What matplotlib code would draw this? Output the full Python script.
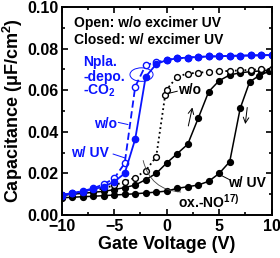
import matplotlib
matplotlib.use("Agg")
import matplotlib.pyplot as plt
from matplotlib.patches import Ellipse
from matplotlib.ticker import MultipleLocator, FormatStrFormatter

plt.rcParams['font.family'] = ['Liberation Sans', 'DejaVu Sans']
plt.rcParams['font.weight'] = 'bold'
plt.rcParams['mathtext.fontset'] = 'custom'
plt.rcParams['mathtext.rm'] = 'Liberation Sans:bold'
plt.rcParams['mathtext.it'] = 'Liberation Sans:bold'
plt.rcParams['mathtext.bf'] = 'Liberation Sans:bold'

# Npla.-depo.-CO2 (blue)
v_blue = list(range(-10, 11))
blue_uv = [0.0093, 0.0104, 0.0112, 0.0124, 0.0136, 0.0160, 0.0200, 0.0365, 0.0665, 0.0725,
           0.0745, 0.0753, 0.0757, 0.0760, 0.0762, 0.0763, 0.0765, 0.0766, 0.0767, 0.0768, 0.0769]
blue_wo = [0.0097, 0.0105, 0.0115, 0.0128, 0.0148, 0.0176, 0.0249, 0.0617, 0.0720, 0.0735,
           0.0745, 0.0753, 0.0757, 0.0760, 0.0762, 0.0763, 0.0765, 0.0766, 0.0767, 0.0768, 0.0769]

# ox.-NO (black), open = w/o UV
v_ox_wo = [-10, -9, -8, -7, -6, -5, -4, -3, -2, -1, -0.15, 0, 1, 2, 3, 4, 5, 6, 7, 8, 9, 10]
ox_wo = [0.0095, 0.0102, 0.0110, 0.0118, 0.0128, 0.0143, 0.0160, 0.0180, 0.0213, 0.0280, 0.0575,
         0.0603, 0.0665, 0.0680, 0.0684, 0.0688, 0.0690, 0.0693, 0.0695, 0.0698, 0.0700, 0.0702]

# ox.-NO w/ UV, forward sweep
v_ox_fw = list(range(-10, 11))
ox_uv_fw = [0.0095, 0.0100, 0.0104, 0.0109, 0.0114, 0.0122, 0.0132, 0.0144, 0.0170, 0.0200,
            0.0250, 0.0295, 0.0340, 0.0465, 0.0593, 0.0646, 0.0673, 0.0684, 0.0689, 0.0693, 0.0696]

# ox.-NO w/ UV, reverse sweep
v_ox_bw = [-10, -9, -8, -7, -6, -5, -4, -3, -2, -1, 0, 1, 2, 3, 4, 5, 6, 7, 7.9, 8.8, 9.7]
ox_uv_bw = [0.0083, 0.0085, 0.0088, 0.0090, 0.0093, 0.0096, 0.0099, 0.0102, 0.0106, 0.0110,
            0.0115, 0.0128, 0.0136, 0.0144, 0.0162, 0.0200, 0.0256, 0.0513, 0.0640, 0.0670, 0.0690]

fig = plt.figure(figsize=(2.8, 2.58), dpi=100)
ax = fig.add_axes([0.2204, 0.1667, 0.75, 0.8062])

blue = '#0a14ff'
ax.plot(v_ox_bw, ox_uv_bw, '-o', color='black', lw=1.1, ms=4.2, mfc='black', mec='black')
ax.plot(v_ox_fw, ox_uv_fw, '-o', color='black', lw=1.1, ms=4.2, mfc='black', mec='black')
ax.plot(v_ox_wo, ox_wo, ':o', color='black', lw=1.3, ms=4.2, mfc='white', mec='black', mew=1.0)
ax.plot(v_blue, blue_wo, '--o', color=blue, lw=1.3, ms=4.5, mfc='white', mec=blue, mew=1.0,
        dashes=(4, 2))
ax.plot(v_blue, blue_uv, '-o', color=blue, lw=1.3, ms=4.5, mfc=blue, mec=blue)

ax.set_xlim(-10, 10)
ax.set_ylim(0, 0.10)
ax.xaxis.set_major_locator(MultipleLocator(5))
ax.xaxis.set_minor_locator(MultipleLocator(2.5))
ax.yaxis.set_major_locator(MultipleLocator(0.02))
ax.yaxis.set_minor_locator(MultipleLocator(0.01))
ax.yaxis.set_major_formatter(FormatStrFormatter('%.2f'))
ax.tick_params(which='both', direction='in', top=True, right=True, width=1.2)
ax.tick_params(which='major', length=4.5, labelsize=11.5, pad=2)
ax.tick_params(axis='x', which='major', pad=3)
ax.tick_params(which='minor', length=2.5)
for s in ax.spines.values():
    s.set_linewidth(1.4)

ax.set_xlabel('Gate Voltage (V)', fontsize=13, fontweight='bold', labelpad=1)
ax.set_ylabel(r'Capacitance (μF/cm$^2$)', fontsize=13, fontweight='bold', labelpad=2)

fs = 10
ax.text(0.058, 0.923, 'Open: w/o excimer UV', transform=ax.transAxes, fontsize=fs,
        fontweight='bold', va='center')
ax.text(0.058, 0.841, 'Closed: w/ excimer UV', transform=ax.transAxes, fontsize=fs,
        fontweight='bold', va='center')

ax.text(-7.97, 0.0736, 'Npla.', color=blue, fontsize=fs, fontweight='bold', va='center')
ax.text(-7.97, 0.0665, '-depo.', color=blue, fontsize=fs, fontweight='bold', va='center')
ax.text(-7.97, 0.0598, r'-CO$_2$', color=blue, fontsize=fs, fontweight='bold', va='center')
ax.add_patch(Ellipse((-2.4, 0.0675), 2.2, 0.0065, fill=False, edgecolor=blue, lw=0.7))

ax.text(-5.87, 0.0438, 'w/o', color=blue, fontsize=fs, fontweight='bold', ha='center', va='center')
ax.plot([-4.6, -3.7], [0.0445, 0.0435], color=blue, lw=0.7)
ax.text(-7.3, 0.0300, 'w/ UV', color=blue, fontsize=fs, fontweight='bold', ha='center', va='center')
ax.plot([-5.1, -3.96], [0.0293, 0.0274], color=blue, lw=0.7)

ax.text(2.22, 0.0600, 'w/o', fontsize=fs, fontweight='bold', ha='center', va='center')
ax.plot([0.2, 1.0], [0.0585, 0.0595], color='black', lw=0.7)
ax.text(7.62, 0.0155, 'w/ UV', fontsize=fs, fontweight='bold', ha='center', va='center')
ax.plot([5.2, 5.9], [0.0190, 0.0172], color='black', lw=0.7)
ax.text(1.08, 0.0064, r'ox.-NO$^{17)}$', fontsize=fs, fontweight='bold', va='center')
ax.annotate('', xy=(-2.3, 0.0275), xytext=(1.6, 0.0110),
            arrowprops=dict(arrowstyle='-', lw=0.6, color='#444444',
                            connectionstyle='arc3,rad=-0.4'))

ax.annotate('', xy=(2.5, 0.0530), xytext=(2.0, 0.0415),
            arrowprops=dict(arrowstyle='->', lw=0.7, color='black'))
ax.annotate('', xy=(7.45, 0.0424), xytext=(7.7, 0.0530),
            arrowprops=dict(arrowstyle='->', lw=0.7, color='black'))

fig.savefig('out.png', dpi=100)
